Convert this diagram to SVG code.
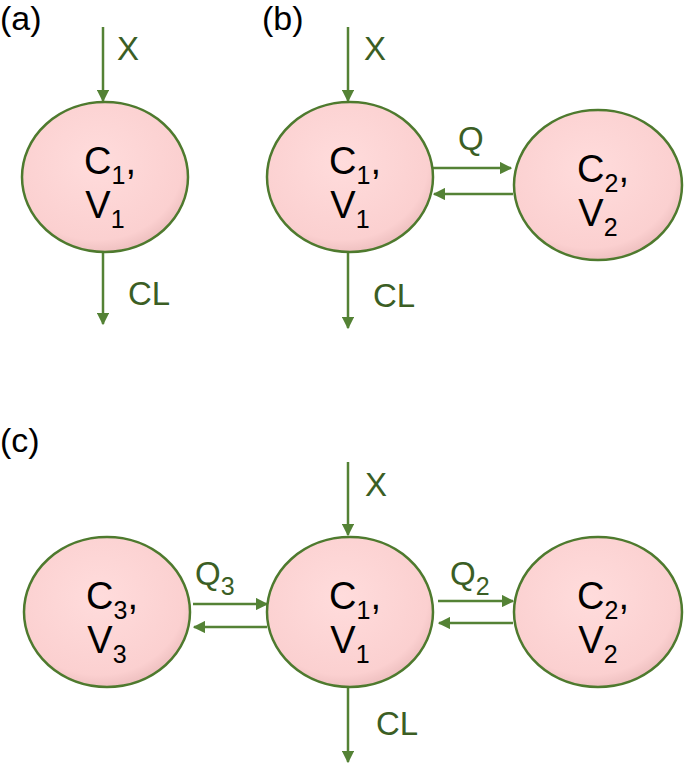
<svg xmlns="http://www.w3.org/2000/svg" width="685" height="765" viewBox="0 0 685 765">
<defs>
<radialGradient id="g" cx="0.45" cy="0.4" r="0.65">
<stop offset="0" stop-color="#FFDCDC"/><stop offset="0.8" stop-color="#FBD0D0"/><stop offset="1" stop-color="#E8B8B8"/>
</radialGradient>
<marker id="ah" viewBox="0 0 10 10" refX="9" refY="5" markerWidth="5" markerHeight="5" orient="auto"><path d="M0,0L10,5L0,10z" fill="#548235"/></marker>
</defs>
<style>
.n{fill:url(#g);stroke:#4E7A2E;stroke-width:2.5}
.t{font-family:"Liberation Sans",Arial,sans-serif;font-size:38px;fill:#000;text-anchor:middle}
.s{font-size:25px}
.l{font-family:"Liberation Sans",Arial,sans-serif;font-size:33px;fill:#3B5E24}
.p{font-family:"Liberation Sans",Arial,sans-serif;font-size:34px;fill:#000}
.c{stroke:#548235;stroke-width:2.5;fill:none;marker-end:url(#ah)}
</style>
<text class="p" x="0" y="30">(a)</text>
<text class="p" x="262" y="30">(b)</text>
<text class="p" x="0" y="452">(c)</text>
<g id="connectors">
<line class="c" x1="103" y1="27" x2="103" y2="101"/>
<line class="c" x1="103" y1="253" x2="103" y2="324"/>
<line class="c" x1="348" y1="27" x2="348" y2="101"/>
<line class="c" x1="348" y1="253" x2="348" y2="328"/>
<line class="c" x1="433" y1="168" x2="511" y2="168"/>
<line class="c" x1="513" y1="194" x2="434" y2="194"/>
<line class="c" x1="348" y1="462" x2="348" y2="535"/>
<line class="c" x1="348" y1="688" x2="348" y2="762"/>
<line class="c" x1="193" y1="604" x2="267" y2="604"/>
<line class="c" x1="267" y1="627" x2="194" y2="627"/>
<line class="c" x1="438" y1="601" x2="513" y2="601"/>
<line class="c" x1="513" y1="623" x2="439" y2="623"/>
</g>
<g id="labels">
<text class="l" x="117" y="60">X</text>
<text class="l" x="128" y="305">CL</text>
<text class="l" x="364" y="60">X</text>
<text class="l" x="373" y="307">CL</text>
<text class="l" x="458" y="150">Q</text>
<text class="l" x="365" y="496">X</text>
<text class="l" x="376" y="735">CL</text>
<text class="l" x="195" y="585">Q<tspan class="s" dy="10">3</tspan></text>
<text class="l" x="450" y="585">Q<tspan class="s" dy="10">2</tspan></text>
</g>
<g id="a1"><ellipse class="n" cx="105" cy="177" rx="83" ry="75"/><text class="t" x="110" y="174">C<tspan class="s" dy="10">1</tspan><tspan dy="-10">,</tspan></text><text class="t" x="105" y="218">V<tspan class="s" dy="10">1</tspan></text></g>
<g id="b1"><ellipse class="n" cx="350" cy="177" rx="83" ry="75"/><text class="t" x="355" y="174">C<tspan class="s" dy="10">1</tspan><tspan dy="-10">,</tspan></text><text class="t" x="350" y="218">V<tspan class="s" dy="10">1</tspan></text></g>
<g id="b2"><ellipse class="n" cx="598" cy="185" rx="84" ry="75"/><text class="t" x="603" y="182">C<tspan class="s" dy="10">2</tspan><tspan dy="-10">,</tspan></text><text class="t" x="598" y="226">V<tspan class="s" dy="10">2</tspan></text></g>
<g id="c1"><ellipse class="n" cx="350" cy="612" rx="83" ry="75"/><text class="t" x="355" y="609">C<tspan class="s" dy="10">1</tspan><tspan dy="-10">,</tspan></text><text class="t" x="350" y="653">V<tspan class="s" dy="10">1</tspan></text></g>
<g id="c2"><ellipse class="n" cx="598" cy="612" rx="84" ry="75"/><text class="t" x="603" y="609">C<tspan class="s" dy="10">2</tspan><tspan dy="-10">,</tspan></text><text class="t" x="598" y="653">V<tspan class="s" dy="10">2</tspan></text></g>
<g id="c3"><ellipse class="n" cx="107" cy="612" rx="83" ry="75"/><text class="t" x="112" y="609">C<tspan class="s" dy="10">3</tspan><tspan dy="-10">,</tspan></text><text class="t" x="107" y="653">V<tspan class="s" dy="10">3</tspan></text></g>
</svg>
